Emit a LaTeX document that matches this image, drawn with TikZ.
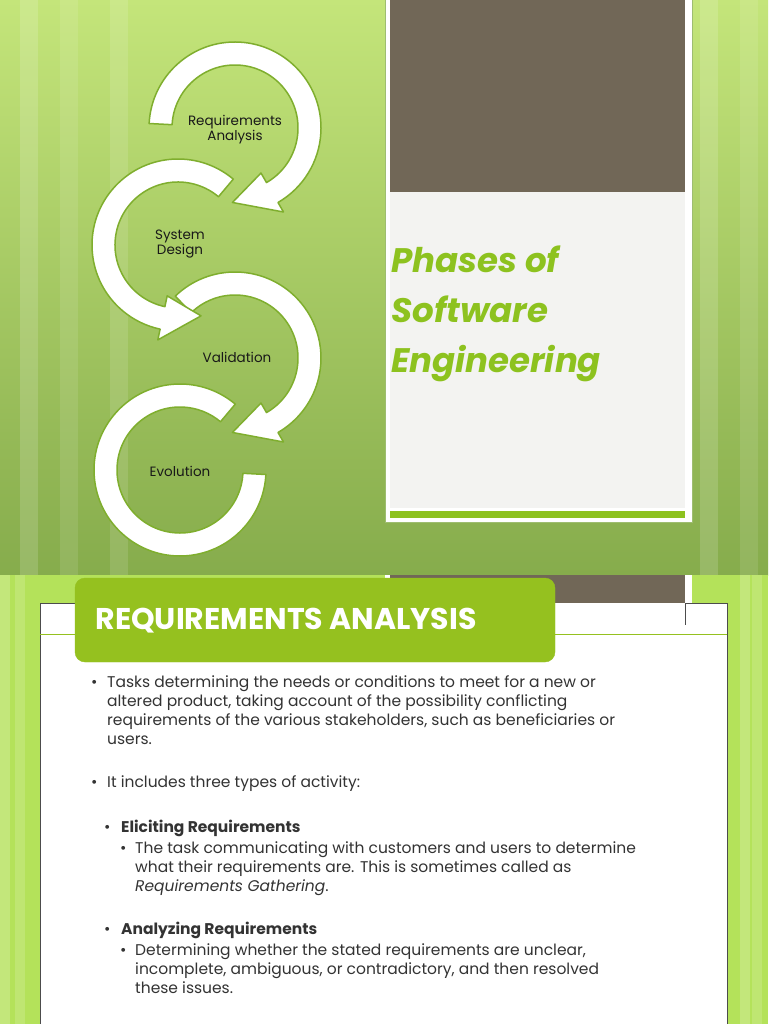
\documentclass[tikz,border=0pt]{standalone}
\usepackage{fontspec}
\setmainfont{Poppins}
\definecolor{gtop}{HTML}{C4E57A}
\definecolor{gbot}{HTML}{86AC4C}
\definecolor{ring}{HTML}{7FAE2E}
\definecolor{taupe}{HTML}{716757}
\definecolor{card}{HTML}{F3F3F1}
\definecolor{bar}{HTML}{8DC21F}
\definecolor{hdr}{HTML}{95C11F}
\definecolor{bright}{HTML}{B4E25A}
\definecolor{ttl}{HTML}{8DC21F}
\newcommand{\cycarrow}[7]{% cx cy start end tip R r
  \begin{scope}[shift={(#1,#2)}]
  \pgfmathsetmacro{\mid}{(#6+#7)/2}
  \pgfmathsetmacro{\ro}{#6+11}
  \pgfmathsetmacro{\ri}{#7-11}
  \draw[ring,line width=1.5pt,fill=white,line join=round]
   (#3:#6) arc[start angle=#3,end angle=#4,radius=#6] -- (#4:\ro) -- (#5:\mid) -- (#4:\ri) -- (#4:#7)
   arc[start angle=#4,end angle=#3,radius=#7] -- cycle;
  \end{scope}}
\newcommand{\cycring}[6]{%
  \begin{scope}[shift={(#1,#2)}]
  \draw[ring,line width=1.5pt,fill=white,line join=round]
   (#3:#5) arc[start angle=#3,end angle=#4,radius=#5] -- (#4:#6)
   arc[start angle=#4,end angle=#3,radius=#6] -- cycle;
  \end{scope}}
\begin{document}
\begin{tikzpicture}[x=1pt,y=-1pt,
  lbl/.style={font=\fontsize{13.5}{15}\selectfont,align=center,text=black!90},
  body/.style={anchor=base west,font=\fontsize{15.5}{18}\selectfont,text=black!80,inner sep=0pt},
  bul/.style={anchor=base west,font=\fontsize{15.5}{18}\selectfont,text=black!80,inner sep=0pt}]
\useasboundingbox (0,0) rectangle (768,1024);
% top slide background
\shade[top color=gtop,bottom color=gbot] (0,0) rectangle (768,575);
\foreach \x/\o in {20/0.15,60/0.1,110/0.12,700/0.15,740/0.1}{
  \fill[white,opacity=\o] (\x,0) rectangle (\x+18,575);}
% right card
\fill[white] (385,0) rectangle (692,522);
\draw[gbot!80!white,line width=1pt] (385,0) -- (385,522) -- (692,522) -- (692,0);
\fill[taupe] (390,0) rectangle (685,192);
\fill[card] (390,192) rectangle (685,508);
\fill[bar] (390,511) rectangle (685,518);
\node[anchor=north west,align=left,text=ttl,inner sep=0pt,
  font=\fontsize{34}{50}\selectfont\bfseries\itshape] (title) at (391,246)
  {Phases of\\Software\\Engineering};
% cycle
\cycring{180}{470}{-50}{-357}{86}{63}
\cycarrow{235}{358}{226}{420}{452}{86}{63}
\cycarrow{178}{245}{-50}{-258}{-288}{86}{63}
\cycarrow{235}{128}{183}{420}{452}{86}{63}
\node[lbl] (ra) at (235,130) {Requirements\\Analysis};
\node[lbl] (sd) at (180,244) {System\\Design};
\node[lbl] (va) at (237,357) {Validation};
\node[lbl] (ev) at (180,471) {Evolution};
% bottom slide
\fill[bright] (0,575) rectangle (768,1024);
\foreach \x/\o in {0/0.2,15/0.15,740/0.2,752/0.15}{
  \fill[white,opacity=\o] (\x,575) rectangle (\x+10,1024);}
\fill[white] (385,575) rectangle (692,632);
\fill[taupe] (390,575) rectangle (685,625);
\fill[white] (40,603) rectangle (727,1024);
\draw[black!70,line width=0.8pt] (40,1024) -- (40,603) -- (390,603);
\draw[black!70,line width=0.8pt] (685,603) -- (727,603) -- (727,1024);
\draw[black!70,line width=0.6pt] (390,603) -- (390,625);
\draw[black!70,line width=0.6pt] (685,603) -- (685,625);
\draw[hdr,line width=0.8pt] (40,634) -- (727,634);
\draw[hdr,fill=hdr,rounded corners=10pt] (75,578) rectangle (555,662);
\node[anchor=west,text=white,font=\fontsize{30}{32}\selectfont\bfseries] (hd) at (92,621) {REQUIREMENTS ANALYSIS};
% body text
\node[bul] (b1) at (91,687) {•};
\node[body] (l1) at (107,687) {Tasks determining the needs or conditions to meet for a new or};
\node[body] (l2) at (107,706) {altered product, taking account of the possibility conflicting};
\node[body] (l3) at (107,725) {requirements of the various stakeholders, such as beneficiaries or};
\node[body] (l4) at (107,744) {users.};
\node[bul] (b2) at (91,787) {•};
\node[body] (l5) at (107,787) {It includes three types of activity:};
\node[bul] (b3) at (104,832) {•};
\node[body,font=\fontsize{15.5}{18}\selectfont\bfseries] (l6) at (121,832) {Eliciting Requirements};
\node[bul] (b4) at (120,853) {•};
\node[body] (l7) at (135,853) {The task communicating with customers and users to determine};
\node[body] (l8) at (135,872) {what their requirements are. This is sometimes called as};
\node[body] (l9) at (135,891) {\textit{Requirements Gathering}.};
\node[bul] (b5) at (104,934) {•};
\node[body,font=\fontsize{15.5}{18}\selectfont\bfseries] (l10) at (121,934) {Analyzing Requirements};
\node[bul] (b6) at (120,955) {•};
\node[body] (l11) at (135,955) {Determining whether the stated requirements are unclear,};
\node[body] (l12) at (135,974) {incomplete, ambiguous, or contradictory, and then resolved};
\node[body] (l13) at (135,993) {these issues.};
\end{tikzpicture}
\end{document}
